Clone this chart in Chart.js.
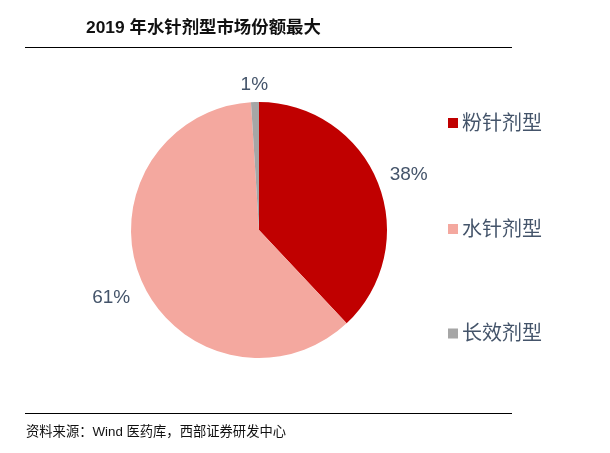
<!DOCTYPE html>
<html>
<head>
<meta charset="utf-8">
<script src="https://cdn.jsdelivr.net/npm/chart.js@4"></script>
<style>
  html, body { margin: 0; padding: 0; background: #fff; }
  body { width: 610px; height: 453px; position: relative; overflow: hidden;
         font-family: "Liberation Sans", "Noto Sans CJK SC", sans-serif; }
  #title { position: absolute; left: 86px; top: 15px; font-size: 17.4px; font-weight: bold;
           color: #111; white-space: nowrap; line-height: 24px; }
  .rule { position: absolute; left: 25px; width: 487px; height: 1px; background: #000; }
  #source { position: absolute; left: 26px; top: 423px; font-size: 13.3px; color: #111;
            white-space: nowrap; line-height: 18px; }
  #wrap { position: absolute; left: 0; top: 0; width: 610px; height: 453px; }
</style>
</head>
<body>
<div id="wrap"><canvas id="c" width="610" height="453"></canvas></div>
<div id="title">2019 年水针剂型市场份额最大</div>
<div class="rule" style="top:47px"></div>
<div class="rule" style="top:413px"></div>
<div id="source">资料来源：Wind 医药库，西部证券研发中心</div>
<script>
const categories = ["粉针剂型", "水针剂型", "长效剂型"];
const shares = [38, 61, 1];
const valueLabels = ["38%", "61%", "1%"];
const colors = ["#C00000", "#F4A89F", "#A6A6A6"];

const labelColor = "#44546A";
const fontFam = '"Liberation Sans", "Noto Sans CJK SC", sans-serif';

const overlay = {
  id: 'overlay',
  afterDraw(chart) {
    const ctx = chart.ctx;
    const meta = chart.getDatasetMeta(0);
    ctx.save();
    ctx.fillStyle = labelColor;
    ctx.font = '19px ' + fontFam;
    ctx.textAlign = 'center';
    ctx.textBaseline = 'middle';
    meta.data.forEach((arc, i) => {
      const mid = (arc.startAngle + arc.endAngle) / 2;
      const w = ctx.measureText(valueLabels[i]).width / 2;
      const h = 9;
      const c = Math.cos(mid), s = Math.sin(mid);
      const d = arc.outerRadius + 12 + Math.abs(c) * w + Math.abs(s) * h;
      ctx.fillText(valueLabels[i], arc.x + c * d, arc.y + s * d + 4);
    });
    // legend
    const lx = 448, ys = [123, 229, 333.5];
    ctx.textAlign = 'left';
    ctx.font = '20px ' + fontFam;
    categories.forEach((cat, i) => {
      ctx.fillStyle = colors[i];
      ctx.fillRect(lx, ys[i] - 5, 10, 10);
      ctx.fillStyle = labelColor;
      ctx.fillText(cat, lx + 14, ys[i] + 1);
    });
    ctx.restore();
  }
};

new Chart(document.getElementById('c'), {
  type: 'pie',
  data: {
    labels: categories,
    datasets: [{
      data: shares,
      backgroundColor: colors,
      borderWidth: 0
    }]
  },
  options: {
    responsive: false,
    animation: false,
    layout: { padding: { left: 131, right: 223, top: 102, bottom: 95 } },
    plugins: { legend: { display: false }, tooltip: { enabled: false } }
  },
  plugins: [overlay]
});
</script>
</body>
</html>
